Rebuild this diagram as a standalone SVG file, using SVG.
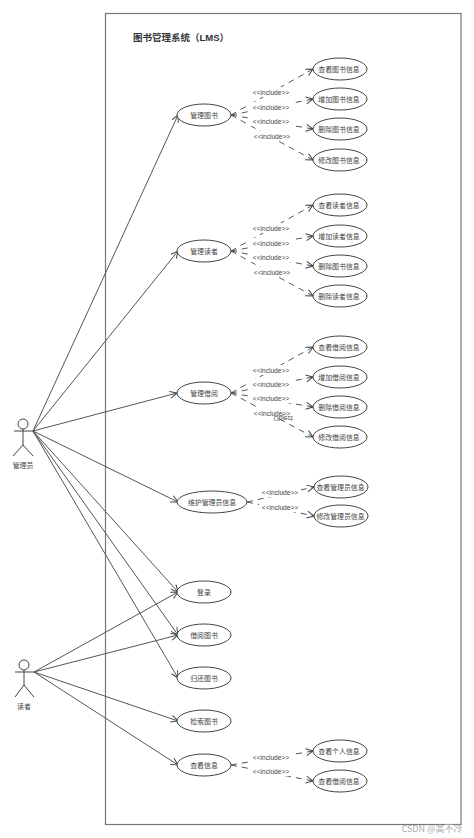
<svg xmlns="http://www.w3.org/2000/svg" width="474" height="838" viewBox="0 0 474 838">
<defs>
<marker id="o" markerWidth="9" markerHeight="9" refX="8" refY="4" orient="auto" markerUnits="userSpaceOnUse"><path d="M1 0.5L8 4L1 7.5" fill="none" stroke="#444" stroke-width="1"/></marker>
</defs>
<style>
text{font-family:"Noto Sans CJK SC","Liberation Sans",sans-serif;fill:#444;text-anchor:middle;dominant-baseline:central}
.n{font-size:6.900px}
.i{font-family:"Liberation Sans","Noto Sans CJK SC",sans-serif;font-size:6.600px}
ellipse{fill:#fff;stroke:#444;stroke-width:1}
.s{stroke:#555;stroke-width:1;fill:none;marker-end:url(#o)}
.d{stroke:#555;stroke-width:1;fill:none;stroke-dasharray:6 5;marker-end:url(#o)}
.a{stroke:#444;stroke-width:1;fill:none}
.l{fill:#fff}
</style>
<rect width="474" height="838" fill="#fff"/>
<rect id="frame" x="105.500" y="13.500" width="355.500" height="811" fill="none" stroke="#777" stroke-width="1.200"/>
<text id="title" x="181" y="37" font-size="9.500" font-weight="bold" style="fill:#333;font-family:'Liberation Sans','Noto Sans CJK SC',sans-serif">图书管理系统（LMS）</text>
<g id="connectors">
<path class="s" d="M33 431L178 115"/>
<path class="s" d="M33 431L178 251"/>
<path class="s" d="M33 431L177 393"/>
<path class="s" d="M33 431L178 502"/>
<path class="s" d="M33 431L178 592"/>
<path class="s" d="M33 431L178 635"/>
<path class="s" d="M33 431L178 678"/>
<path class="s" d="M34 672L178 592"/>
<path class="s" d="M34 672L178 635"/>
<path class="s" d="M34 672L178 721"/>
<path class="s" d="M34 672L178 765"/>
<path class="d" d="M231 115L313 69"/>
<path class="d" d="M231 115L313 99"/>
<path class="d" d="M231 115L313 129"/>
<path class="d" d="M231 115L313 160"/>
<path class="d" d="M231 251L313 205"/>
<path class="d" d="M231 251L313 236"/>
<path class="d" d="M231 251L313 266"/>
<path class="d" d="M231 251L313 296"/>
<path class="d" d="M231 393L313 347"/>
<path class="d" d="M231 393L313 377"/>
<path class="d" d="M231 393L313 407"/>
<path class="d" d="M231 393L313 437"/>
<path class="d" d="M247 502L314 487"/>
<path class="d" d="M247 502L314 516"/>
<path class="d" d="M231 765L313 751"/>
<path class="d" d="M231 765L313 781"/>
</g>
<g id="labels">
<g class="l">
<rect x="250" y="87" width="42" height="10"/><rect x="250" y="102" width="42" height="10"/><rect x="250" y="116" width="42" height="10"/><rect x="251" y="131" width="42" height="10"/>
<rect x="250" y="223" width="42" height="10"/><rect x="250" y="238" width="42" height="10"/><rect x="250" y="252" width="42" height="10"/><rect x="251" y="267" width="42" height="10"/>
<rect x="250" y="365" width="42" height="10"/><rect x="250" y="379" width="42" height="10"/><rect x="250" y="393" width="42" height="10"/><rect x="251" y="408" width="42" height="10"/>
<rect x="259" y="487" width="42" height="10"/><rect x="259" y="502" width="42" height="10"/>
<rect x="250" y="752" width="42" height="10"/><rect x="250" y="766" width="42" height="10"/>
</g>
<text class="i" transform="translate(283 418.500) scale(1 -1)">Object</text>
<text class="i" x="271" y="92">&lt;&lt;include&gt;&gt;</text><text class="i" x="271" y="107">&lt;&lt;include&gt;&gt;</text><text class="i" x="271" y="121">&lt;&lt;include&gt;&gt;</text><text class="i" x="272" y="136">&lt;&lt;include&gt;&gt;</text>
<text class="i" x="271" y="228">&lt;&lt;include&gt;&gt;</text><text class="i" x="271" y="243">&lt;&lt;include&gt;&gt;</text><text class="i" x="271" y="257">&lt;&lt;include&gt;&gt;</text><text class="i" x="272" y="272">&lt;&lt;include&gt;&gt;</text>
<text class="i" x="271" y="370">&lt;&lt;include&gt;&gt;</text><text class="i" x="271" y="384">&lt;&lt;include&gt;&gt;</text><text class="i" x="271" y="398">&lt;&lt;include&gt;&gt;</text><text class="i" x="272" y="413">&lt;&lt;include&gt;&gt;</text>
<text class="i" x="280" y="492">&lt;&lt;include&gt;&gt;</text><text class="i" x="280" y="507">&lt;&lt;include&gt;&gt;</text>
<text class="i" x="271" y="757">&lt;&lt;include&gt;&gt;</text><text class="i" x="271" y="771">&lt;&lt;include&gt;&gt;</text>
</g>
<g id="actor-admin" class="a"><circle cx="23" cy="424" r="5"/><path d="M14 431H33M23 429V445L13 456M23 445L33 456"/><text class="n" x="23" y="465" stroke="none">管理员</text></g>
<g id="actor-reader" class="a"><circle cx="24" cy="665" r="5"/><path d="M15 672H34M24 670V685L15 697M24 685L34 697"/><text class="n" x="24" y="706" stroke="none">读者</text></g>
<g id="u1"><ellipse cx="204" cy="115" rx="27" ry="11"/><text class="n" x="204" y="115">管理图书</text></g>
<g id="u2"><ellipse cx="204" cy="251" rx="27" ry="11"/><text class="n" x="204" y="251">管理读者</text></g>
<g id="u3"><ellipse cx="204" cy="393" rx="27" ry="11"/><text class="n" x="204" y="393">管理借阅</text></g>
<g id="u4"><ellipse cx="212" cy="502" rx="35" ry="11"/><text class="n" x="212" y="502">维护管理员信息</text></g>
<g id="u5"><ellipse cx="204" cy="592" rx="27" ry="11"/><text class="n" x="204" y="592">登录</text></g>
<g id="u6"><ellipse cx="204" cy="635" rx="27" ry="11"/><text class="n" x="204" y="635">借阅图书</text></g>
<g id="u7"><ellipse cx="204" cy="678" rx="27" ry="11"/><text class="n" x="204" y="678">归还图书</text></g>
<g id="u8"><ellipse cx="204" cy="721" rx="27" ry="11"/><text class="n" x="204" y="721">检索图书</text></g>
<g id="u9"><ellipse cx="204" cy="765" rx="27" ry="11"/><text class="n" x="204" y="765">查看信息</text></g>
<g id="r1"><ellipse cx="340" cy="69" rx="27" ry="11"/><text class="n" x="339" y="69">查看图书信息</text></g>
<g id="r2"><ellipse cx="340" cy="99" rx="27" ry="11"/><text class="n" x="339" y="99">增加图书信息</text></g>
<g id="r3"><ellipse cx="340" cy="129" rx="27" ry="11"/><text class="n" x="339" y="129">删除图书信息</text></g>
<g id="r4"><ellipse cx="340" cy="160" rx="27" ry="11"/><text class="n" x="339" y="160">修改图书信息</text></g>
<g id="r5"><ellipse cx="340" cy="205" rx="27" ry="11"/><text class="n" x="339" y="205">查看读者信息</text></g>
<g id="r6"><ellipse cx="340" cy="236" rx="27" ry="11"/><text class="n" x="339" y="236">增加读者信息</text></g>
<g id="r7"><ellipse cx="340" cy="266" rx="27" ry="11"/><text class="n" x="339" y="266">删除图书信息</text></g>
<g id="r8"><ellipse cx="340" cy="296" rx="27" ry="11"/><text class="n" x="339" y="296">删除读者信息</text></g>
<g id="r9"><ellipse cx="340" cy="347" rx="27" ry="11"/><text class="n" x="339" y="347">查看借阅信息</text></g>
<g id="r10"><ellipse cx="340" cy="377" rx="27" ry="11"/><text class="n" x="339" y="377">增加借阅信息</text></g>
<g id="r11"><ellipse cx="340" cy="407" rx="27" ry="11"/><text class="n" x="339" y="407">删除借阅信息</text></g>
<g id="r12"><ellipse cx="340" cy="437" rx="27" ry="11"/><text class="n" x="339" y="437">修改借阅信息</text></g>
<g id="r13"><ellipse cx="341" cy="487" rx="27" ry="11"/><text class="n" x="340.500" y="487">查看管理员信息</text></g>
<g id="r14"><ellipse cx="341" cy="516" rx="27" ry="11"/><text class="n" x="340.500" y="516">修改管理员信息</text></g>
<g id="r15"><ellipse cx="340" cy="751" rx="27" ry="11"/><text class="n" x="339" y="751">查看个人信息</text></g>
<g id="r16"><ellipse cx="340" cy="781" rx="27" ry="11"/><text class="n" x="339" y="781">查看借阅信息</text></g>
<text id="watermark" x="432" y="828" font-size="9px" style="fill:#aaa">CSDN @高不冷</text>
</svg>
